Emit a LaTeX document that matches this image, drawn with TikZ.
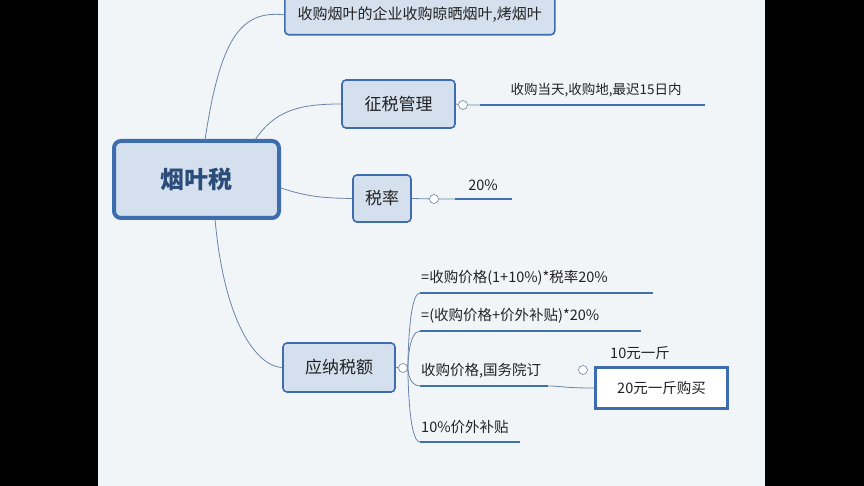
\documentclass[tikz,border=0pt]{standalone}
\usepackage{fontspec}
\setmainfont{Noto Sans CJK SC}
\begin{document}
\begin{tikzpicture}[x=1pt,y=-1pt,
  topic/.style={draw=bbord,line width=1.6pt,fill=bfill,rounded corners=4pt,text=txt,inner sep=0pt},
  conn/.style={draw=lgray,line width=0.8pt},
  leafline/.style={draw=lblue,line width=2.2pt},
  leaftxt/.style={text=txt,font=\fontsize{14.5}{14.5}\selectfont,inner sep=0pt},
  coll/.style={circle,draw=lgray,fill=white,minimum size=9pt,inner sep=0pt,line width=0.6pt}]
\definecolor{bbord}{HTML}{3D6DAE}
\definecolor{bfill}{HTML}{D5E0EE}
\definecolor{txt}{HTML}{222222}
\definecolor{lgray}{HTML}{6A84A8}
\definecolor{lblue}{HTML}{3F70B0}
\definecolor{bg}{HTML}{F2F5F8}
\useasboundingbox (0,0) rectangle (864,486);
\fill[black] (0,0) rectangle (864,486);
\fill[bg] (98,0) rectangle (765,486);
% root
\node[topic,line width=4pt,rounded corners=7pt,minimum width=165pt,minimum height=77pt,font=\fontsize{24}{24}\selectfont\bfseries,text=bbord!70!black] (root) at (196.5,179.5) {烟叶税};
\node[topic,minimum width=270pt,minimum height=40pt,font=\fontsize{15}{15}\selectfont,anchor=north west] (top) at (284,-6) {收购烟叶的企业收购晾晒烟叶,烤烟叶};
\node[topic,minimum width=113pt,minimum height=48pt,font=\fontsize{17}{17}\selectfont] (zs) at (398.5,104) {征税管理};
\node[topic,minimum width=58pt,minimum height=47pt,font=\fontsize{17}{17}\selectfont] (sl) at (382,198.5) {税率};
\node[topic,minimum width=112pt,minimum height=49pt,font=\fontsize{17}{17}\selectfont] (yn) at (339,367.5) {应纳税额};
% root connectors
\draw[conn] (205,140) .. controls (220,40) and (240,10) .. (top.west);
\draw[conn] (255,140) .. controls (275,110) and (300,104) .. (zs.west);
\draw[conn] (root.east|-0,188) .. controls (310,198) and (330,198) .. (sl.west);
\draw[conn] (215,219) .. controls (225,330) and (260,367) .. (yn.west);
% zs leaf
\node[coll] (c1) at (463,105) {};
\coordinate (z1) at (480,105); \coordinate (z2) at (705,105);
\draw[conn] (zs.east) -- (c1) -- (z1);
\draw[leafline] (z1) -- (z2);
\node[leaftxt,font=\fontsize{13.5}{13.5}\selectfont] (zt) at (596,90) {收购当天,收购地,最迟15日内};
% sl leaf
\node[coll] (c2) at (434,199) {};
\coordinate (s1) at (455,199); \coordinate (s2) at (512,199);
\draw[conn] (sl.east) -- (c2) -- (s1);
\draw[leafline] (s1) -- (s2);
\node[leaftxt] (st) at (483,185) {20\%};
% yn leaves
\node[coll] (c3) at (403,368) {};
\draw[conn] (yn.east) -- (c3);
\foreach \y/\e/\t [count=\i] in {293/653/{=收购价格(1+10\%)*税率20\%},331/641/{=(收购价格+价外补贴)*20\%},386/548/{收购价格,国务院订},442/520/{10\%价外补贴}}{
  \coordinate (a\i) at (420,\y); \coordinate (b\i) at (\e,\y);
  \draw[conn] (c3.east) .. controls (408,368) and (408,\y) .. (a\i);
  \draw[leafline] (a\i) -- (b\i);
  \node[leaftxt,anchor=west] (t\i) at (421,\y-15) {\t};
}
\node[coll] (c4) at (583,370) {};
\node[leaftxt] (p1) at (640,353) {10元一斤};
\node[draw=bbord,line width=3pt,fill=white,minimum width=132pt,minimum height=41pt,inner sep=0pt,text=txt,font=\fontsize{14.5}{14.5}\selectfont] (p2) at (661.5,388) {20元一斤购买};
\draw[conn] (b3) .. controls (562,386) and (562,388) .. (p2.west);
\end{tikzpicture}
\end{document}
